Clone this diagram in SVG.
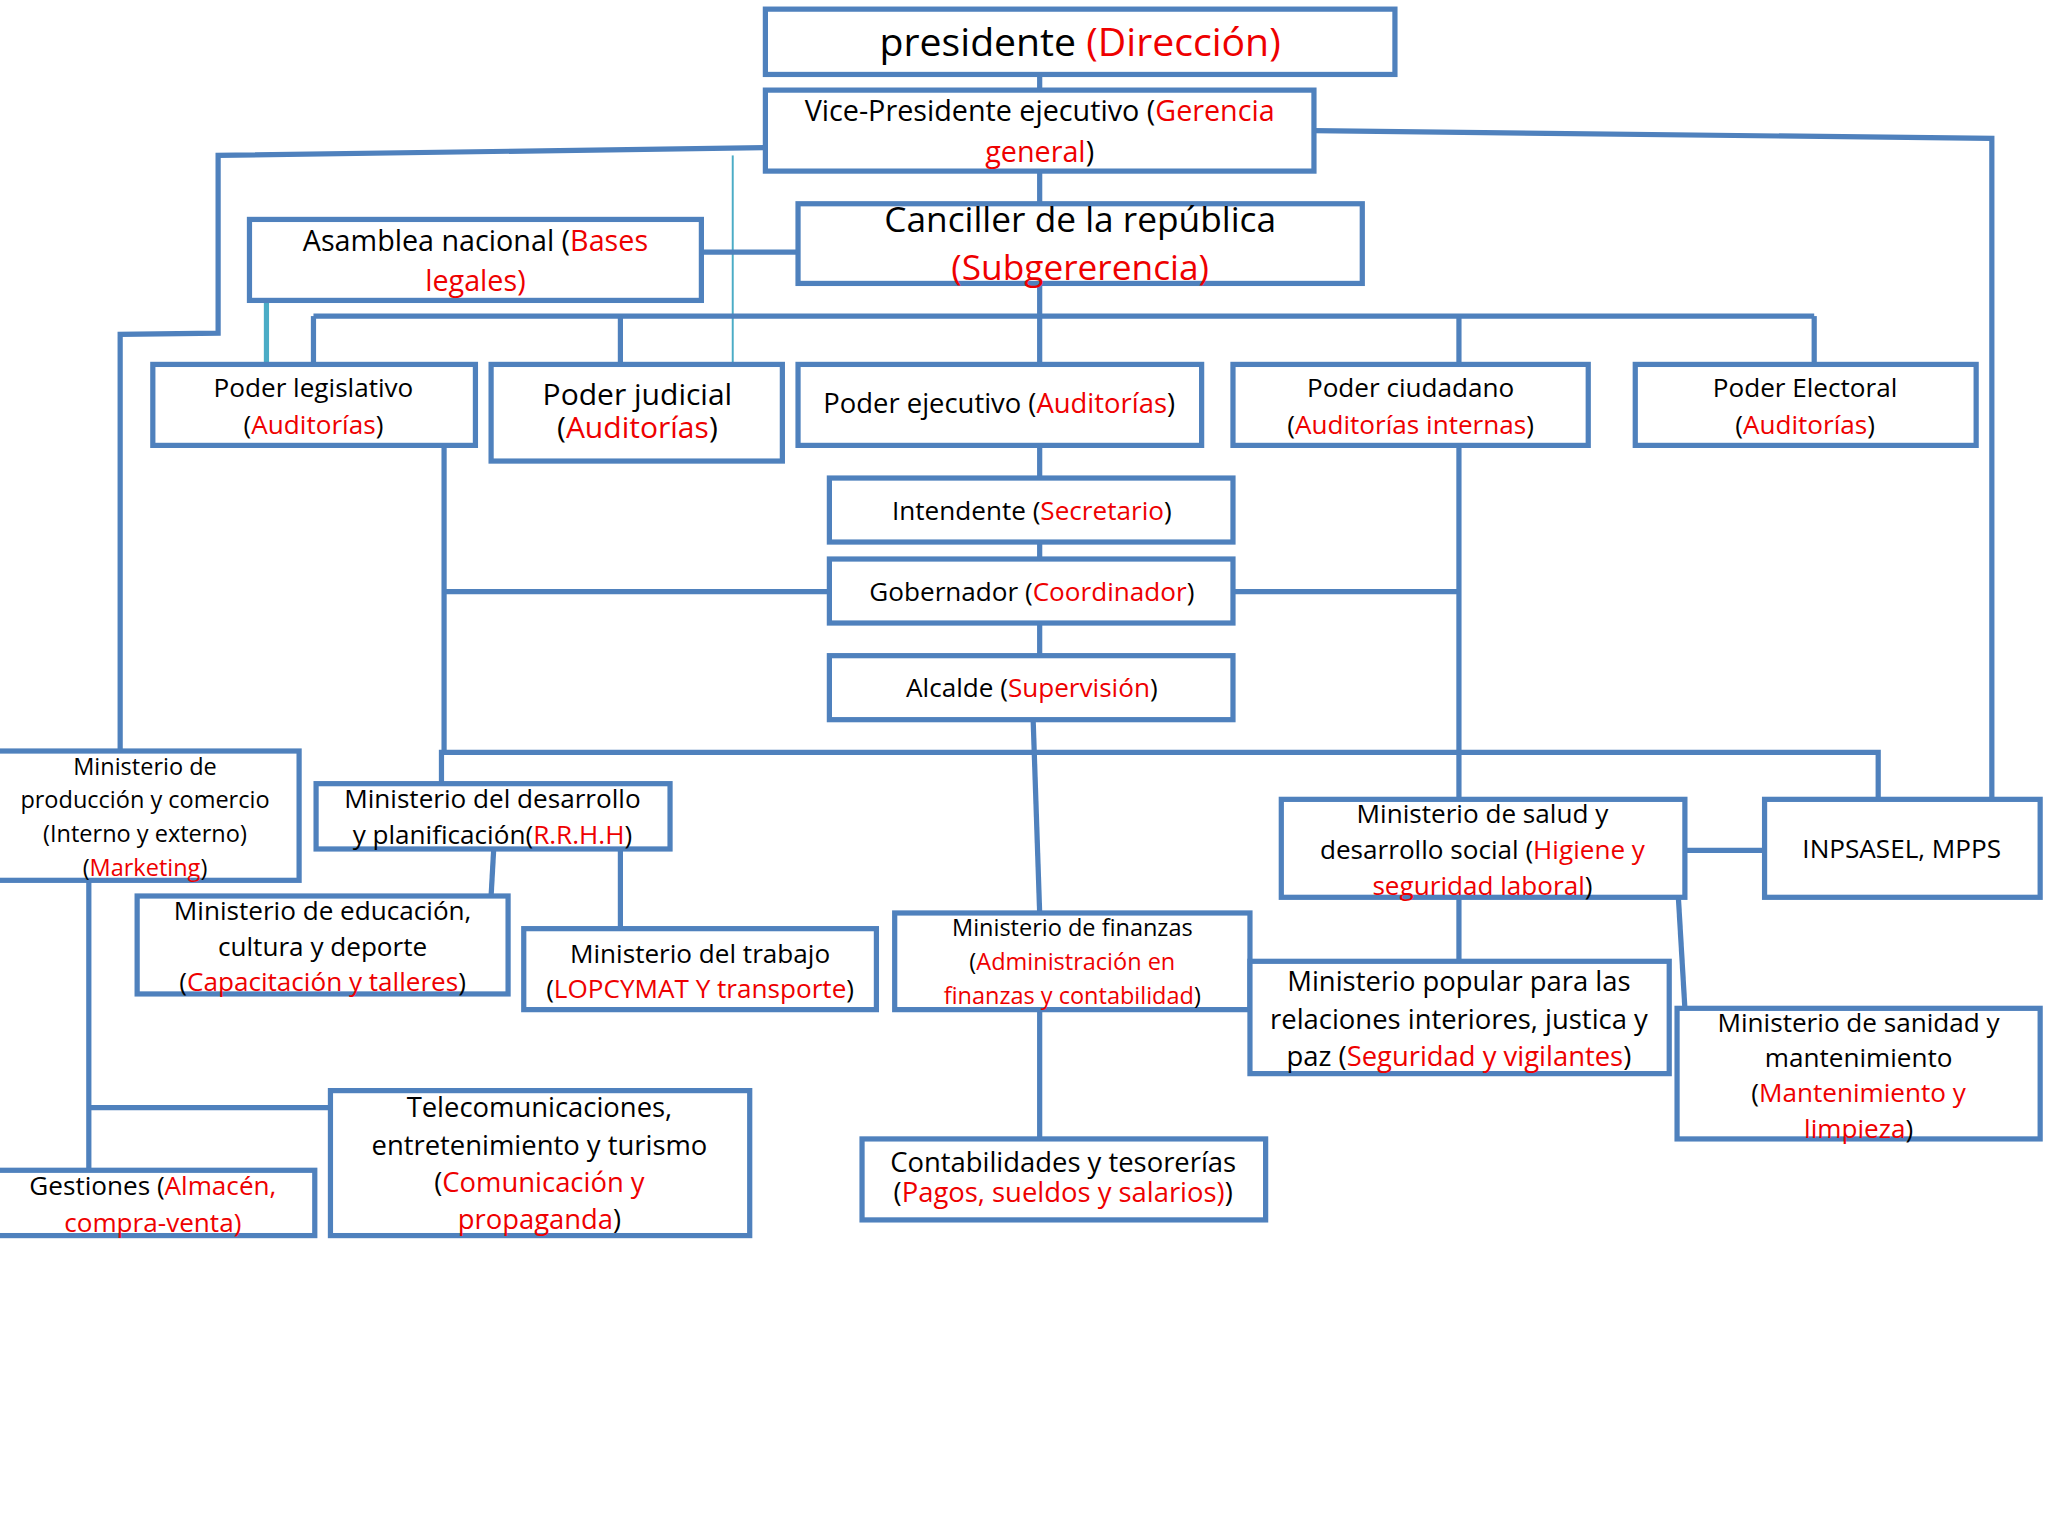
<svg xmlns="http://www.w3.org/2000/svg" width="2048" height="1536" viewBox="0 0 2048 1536">
<style>
.b{fill:#fff;stroke:#4f81bd;stroke-width:4}
text{font-family:"Open Sans","Liberation Sans",sans-serif;fill:#000;text-anchor:middle}
.r{fill:#e00}
#conn line,#conn polyline{stroke:#4f81bd;stroke-width:4;fill:none}
</style>
<rect width="2048" height="1536" fill="#fff"/>
<g transform="scale(1.30612)">
<g id="conn">
<line x1="796" y1="57" x2="796" y2="69"/>
<line x1="796" y1="131" x2="796" y2="156"/>
<polyline points="586,113 167,119 167,255 92,256 92,575"/>
<polyline points="1006,100 1525,106 1525,612"/>
<line x1="561" y1="119" x2="561" y2="278" style="stroke:#4bacc6;stroke-width:1.5"/>
<line x1="537" y1="193" x2="611" y2="193"/>
<line x1="204" y1="230" x2="204" y2="279" style="stroke:#4bacc6"/>
<line x1="796" y1="217" x2="796" y2="279"/>
<line x1="240" y1="242" x2="1389" y2="242"/>
<line x1="240" y1="242" x2="240" y2="279"/>
<line x1="475" y1="242" x2="475" y2="279"/>
<line x1="1117" y1="242" x2="1117" y2="279"/>
<line x1="1389" y1="242" x2="1389" y2="279"/>
<line x1="796" y1="341" x2="796" y2="366"/>
<line x1="796" y1="415" x2="796" y2="428"/>
<line x1="796" y1="477" x2="796" y2="502"/>
<line x1="340" y1="341" x2="340" y2="576"/>
<line x1="340" y1="453" x2="635" y2="453"/>
<line x1="944" y1="453" x2="1117" y2="453"/>
<line x1="1117" y1="341" x2="1117" y2="612"/>
<polyline points="338,600 338,576 1438,576 1438,612"/>
<line x1="791" y1="551" x2="796" y2="699"/>
<line x1="378" y1="650" x2="376" y2="686"/>
<line x1="475" y1="650" x2="475" y2="711"/>
<line x1="1117" y1="687" x2="1117" y2="736"/>
<line x1="1290" y1="651" x2="1351" y2="651"/>
<line x1="1285" y1="687" x2="1290" y2="772"/>
<line x1="796" y1="773" x2="796" y2="872"/>
<line x1="68" y1="674" x2="68" y2="896"/>
<line x1="68" y1="848" x2="253" y2="848"/>
</g>
<g id="presidente"><rect class="b" x="586" y="7" width="482" height="50"/><text x="827" y="43" font-size="30">presidente <tspan class="r">(Dirección)</tspan></text></g>
<g id="vp"><rect class="b" x="586" y="69" width="420" height="62"/><text x="796" y="93" font-size="22">Vice-Presidente ejecutivo (<tspan class="r">Gerencia</tspan></text><text x="796" y="124" font-size="22"><tspan class="r">general</tspan>)</text></g>
<g id="canciller"><rect class="b" x="611" y="156" width="432" height="61"/><text x="827" y="178" font-size="27">Canciller de la república</text><text x="827" y="214" font-size="27" class="r">(Subgererencia)</text></g>
<g id="asamblea"><rect class="b" x="191" y="168" width="346" height="62"/><text x="364" y="192" font-size="22">Asamblea nacional (<tspan class="r">Bases</tspan></text><text x="364" y="223" font-size="22" class="r">legales)</text></g>
<g id="legislativo"><rect class="b" x="117" y="279" width="247" height="62"/><text x="240" y="304" font-size="20">Poder legislativo</text><text x="240" y="332" font-size="20">(<tspan class="r">Auditorías</tspan>)</text></g>
<g id="judicial"><rect class="b" x="376" y="279" width="223" height="74"/><text x="488" y="310" font-size="23">Poder judicial</text><text x="488" y="335" font-size="23">(<tspan class="r">Auditorías</tspan>)</text></g>
<g id="ejecutivo"><rect class="b" x="611" y="279" width="309" height="62"/><text x="765" y="316" font-size="21">Poder ejecutivo (<tspan class="r">Auditorías</tspan>)</text></g>
<g id="ciudadano"><rect class="b" x="944" y="279" width="272" height="62"/><text x="1080" y="304" font-size="20">Poder ciudadano</text><text x="1080" y="332" font-size="20">(<tspan class="r">Auditorías  internas</tspan>)</text></g>
<g id="electoral"><rect class="b" x="1252" y="279" width="261" height="62"/><text x="1382" y="304" font-size="20">Poder Electoral</text><text x="1382" y="332" font-size="20">(<tspan class="r">Auditorías</tspan>)</text></g>
<g id="intendente"><rect class="b" x="635" y="366" width="309" height="49"/><text x="790" y="398" font-size="20">Intendente (<tspan class="r">Secretario</tspan>)</text></g>
<g id="gobernador"><rect class="b" x="635" y="428" width="309" height="49"/><text x="790" y="460" font-size="20">Gobernador (<tspan class="r">Coordinador</tspan>)</text></g>
<g id="alcalde"><rect class="b" x="635" y="502" width="309" height="49"/><text x="790" y="534" font-size="20">Alcalde (<tspan class="r">Supervisión</tspan>)</text></g>
<g id="produccion"><rect class="b" x="-4" y="575" width="233" height="99"/><text x="111" y="593" font-size="18">Ministerio de</text><text x="111" y="619" font-size="18">producción y comercio</text><text x="111" y="645" font-size="18">(Interno y externo)</text><text x="111" y="671" font-size="18">(<tspan class="r">Marketing</tspan>)</text></g>
<g id="desarrollo"><rect class="b" x="242" y="600" width="271" height="50"/><text x="377" y="619" font-size="20">Ministerio del desarrollo</text><text x="377" y="646" font-size="20">y planificación(<tspan class="r">R.R.H.H</tspan>)</text></g>
<g id="educacion"><rect class="b" x="105" y="686" width="284" height="75"/><text x="247" y="704" font-size="20">Ministerio de educación,</text><text x="247" y="732" font-size="20">cultura y deporte</text><text x="247" y="759" font-size="20">(<tspan class="r">Capacitación y talleres</tspan>)</text></g>
<g id="trabajo"><rect class="b" x="401" y="711" width="270" height="62"/><text x="536" y="737" font-size="20">Ministerio del trabajo</text><text x="536" y="764" font-size="20">(<tspan class="r">LOPCYMAT Y transporte</tspan>)</text></g>
<g id="finanzas"><rect class="b" x="685" y="699" width="272" height="74"/><text x="821" y="717" font-size="18">Ministerio de finanzas</text><text x="821" y="743" font-size="18">(<tspan class="r">Administración en</tspan></text><text x="821" y="769" font-size="18"><tspan class="r">finanzas y contabilidad</tspan>)</text></g>
<g id="salud"><rect class="b" x="981" y="612" width="309" height="75"/><text x="1135" y="630" font-size="20">Ministerio de salud y</text><text x="1135" y="658" font-size="20">desarrollo social (<tspan class="r">Higiene y</tspan></text><text x="1135" y="685" font-size="20"><tspan class="r">seguridad laboral</tspan>)</text></g>
<g id="inpsasel"><rect class="b" x="1351" y="612" width="211" height="75"/><text x="1456" y="657" font-size="20">INPSASEL, MPPS</text></g>
<g id="popular"><rect class="b" x="957" y="736" width="321" height="86"/><text x="1117" y="759" font-size="21">Ministerio popular para las</text><text x="1117" y="788" font-size="21">relaciones interiores, justica y</text><text x="1117" y="816" font-size="21">paz (<tspan class="r">Seguridad y vigilantes</tspan>)</text></g>
<g id="sanidad"><rect class="b" x="1284" y="772" width="278" height="100"/><text x="1423" y="790" font-size="20">Ministerio de sanidad y</text><text x="1423" y="817" font-size="20">mantenimiento</text><text x="1423" y="844" font-size="20">(<tspan class="r">Mantenimiento y</tspan></text><text x="1423" y="871" font-size="20"><tspan class="r">limpieza</tspan>)</text></g>
<g id="telecom"><rect class="b" x="253" y="835" width="321" height="111"/><text x="413" y="855" font-size="21">Telecomunicaciones,</text><text x="413" y="884" font-size="21">entretenimiento y turismo</text><text x="413" y="913" font-size="21">(<tspan class="r">Comunicación y</tspan></text><text x="413" y="941" font-size="21"><tspan class="r">propaganda</tspan>)</text></g>
<g id="gestiones"><rect class="b" x="-4" y="896" width="245" height="50"/><text x="117" y="915" font-size="20">Gestiones (<tspan class="r">Almacén,</tspan></text><text x="117" y="943" font-size="20"><tspan class="r">compra-venta)</tspan></text></g>
<g id="contabilidades"><rect class="b" x="660" y="872" width="309" height="62"/><text x="814" y="897" font-size="21">Contabilidades y tesorerías</text><text x="814" y="920" font-size="21">(<tspan class="r">Pagos, sueldos y salarios)</tspan>)</text></g>
</g>
</svg>
